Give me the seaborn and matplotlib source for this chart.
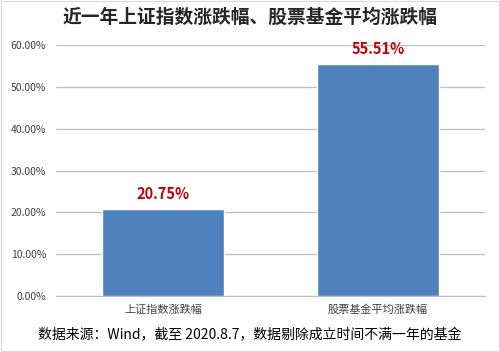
import pandas as pd
import matplotlib.pyplot as plt
import seaborn as sns
from matplotlib.ticker import PercentFormatter
from matplotlib.patches import Rectangle

# Datos
categorias = ['上证指数涨跌幅', '股票基金平均涨跌幅']
valores = [20.75, 55.51]
etiquetas = ['20.75%', '55.51%']
yticks = [0, 10, 20, 30, 40, 50, 60]

titulo = '近一年上证指数涨跌幅、股票基金平均涨跌幅'
nota = '数据来源：Wind，截至 2020.8.7，数据剔除成立时间不满一年的基金'

sns.set_style("white")
plt.rcParams['font.family'] = ['Noto Sans CJK SC', 'DejaVu Sans']

df = pd.DataFrame({'cat': categorias, 'val': valores})

fig = plt.figure(figsize=(5, 3.52), dpi=100)
ax = fig.add_axes([0.112, 0.159, 0.858, 0.713])

sns.barplot(data=df, x='cat', y='val', color='#4F81BD', saturation=1,
            width=0.57, ax=ax, zorder=3)

ax.set_ylim(0, 60)
ax.set_yticks(yticks)
ax.yaxis.set_major_formatter(PercentFormatter(decimals=2))
ax.grid(axis='y', color='#BFBFBF', linewidth=0.9, zorder=0)
ax.set_axisbelow(True)
for s in ['top', 'right', 'left']:
    ax.spines[s].set_visible(False)
ax.spines['bottom'].set_color('#BFBFBF')
ax.tick_params(axis='y', labelsize=7.5, colors='#404040', length=0, pad=7)
ax.tick_params(axis='x', labelsize=8, colors='#404040', length=0, pad=6)
ax.set_xlabel('')
ax.set_ylabel('')

for i, (v, t) in enumerate(zip(valores, etiquetas)):
    ax.annotate(t, (i, v), xytext=(0, 5), textcoords='offset points',
                ha='center', va='bottom', color='#C00000',
                fontsize=10.5, fontweight='bold')

fig.text(0.5, 0.952, titulo, ha='center', va='center',
         fontsize=13.5, fontweight='bold', color='#262626')
fig.text(0.5, 0.048, nota, ha='center', va='center',
         fontsize=10, color='#000000')

fig.patches.append(Rectangle((0.002, 0.003), 0.996, 0.994, transform=fig.transFigure,
                             fill=False, edgecolor='#D9D9D9', linewidth=0.8))

fig.savefig('out.png', dpi=100)
